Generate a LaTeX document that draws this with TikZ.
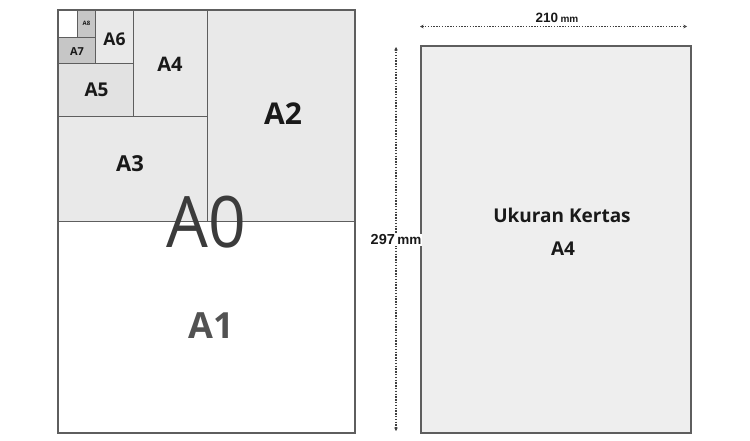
\documentclass[tikz,border=0pt]{standalone}
\usepackage{fontspec}
\setmainfont{Open Sans}
\newfontfamily\arialf{Liberation Sans}
\usetikzlibrary{arrows.meta}
\definecolor{lg}{HTML}{E9E9E9}
\definecolor{mg}{HTML}{E2E2E2}
\definecolor{dg}{HTML}{C6C6C6}
\definecolor{pg}{HTML}{EEEEEE}
\definecolor{bd}{HTML}{5E5E5E}
\tikzset{
  sheet/.style={draw=bd, line width=0.9pt},
  lbl/.style={font=\bfseries, text=black!90, inner sep=0pt, anchor=center},
  dim/.style={dash pattern=on 1.4pt off 1.4pt, line width=1.3pt, draw=black!75, {Stealth[length=3.5pt,width=3.5pt]}-{Stealth[length=3.5pt,width=3.5pt]}},
  dimtxt/.style={font=\arialf\bfseries, text=black!90, inner sep=1pt}
}
\begin{document}
\begin{tikzpicture}[x=1pt,y=-1pt]
\useasboundingbox[fill=white] (0,0) rectangle (750,440);
% sheets
\path[sheet, fill=white] (58,221) rectangle (355,433);
\path[sheet, fill=lg] (207,10) rectangle (355,221);
\path[sheet, fill=lg] (58,116) rectangle (207,221);
\path[sheet, fill=lg] (133,10) rectangle (207,116);
\path[sheet, fill=mg] (58,63) rectangle (133,116);
\path[sheet, fill=lg] (95,10) rectangle (133,63);
\path[sheet, fill=dg] (58,37) rectangle (95,63);
\path[sheet, fill=dg] (77,10) rectangle (95,37);
\path[sheet, fill=white] (58,10) rectangle (77,37);
\draw[draw=bd, line width=1.3pt] (58,10) rectangle (355,433);
% labels
\node[lbl, font=\bfseries\fontsize{6}{7}\selectfont] (a8) at (86.5,23.5) {A8};
\node[lbl, font=\bfseries\fontsize{11}{12}\selectfont] (a7) at (77,52) {A7};
\node[lbl, font=\bfseries\fontsize{17.5}{18}\selectfont] (a6) at (114.5,39.5) {A6};
\node[lbl, font=\bfseries\fontsize{19}{20}\selectfont] (a5) at (96.5,90) {A5};
\node[lbl, font=\bfseries\fontsize{20}{21}\selectfont] (a4) at (170,64.5) {A4};
\node[lbl, font=\bfseries\fontsize{22}{23}\selectfont] (a3) at (130,163.5) {A3};
\node[lbl, font=\bfseries\fontsize{30}{31}\selectfont] (a2) at (283,114) {A2};
\node[lbl, font=\bfseries\fontsize{36}{37}\selectfont, text=black!68] (a1) at (211,326) {A1};
\node[lbl, font=\fontsize{71}{72}\selectfont, text=black!77, xscale=0.93] (a0) at (206,222.5) {A0};
% A4 sheet
\node[sheet, line width=1.1pt, fill=pg, minimum width=270pt, minimum height=387pt, inner sep=0pt] (p) at (556,239.5) {};
\node[lbl, font=\bfseries\fontsize{19}{20}\selectfont] (t1) at (562,215) {Ukuran Kertas};
\node[lbl, font=\bfseries\fontsize{19}{20}\selectfont] (t2) at (563,248.5) {A4};
% dimensions
\coordinate (h1) at (420,26.5);
\coordinate (h2) at (687,26.5);
\draw[dim] (h1) -- (h2);
\node[dimtxt] (w) at (557,17.5) {\fontsize{13.5}{14}\selectfont 210\,\fontsize{10}{11}\selectfont mm};
\coordinate (v1) at (396,47);
\coordinate (v2) at (396,431);
\draw[dim] (v1) -- (v2);
\node[dimtxt, fill=white] (hgt) at (396,240) {\fontsize{14.5}{15}\selectfont 297\,\fontsize{13.5}{14}\selectfont mm};
\end{tikzpicture}
\end{document}
